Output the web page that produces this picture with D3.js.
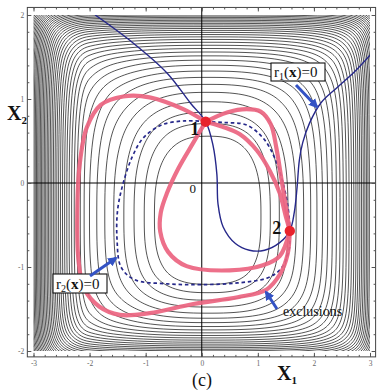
<!DOCTYPE html>
<html><head><meta charset="utf-8">
<script src="https://cdn.jsdelivr.net/npm/d3@7"></script>
<style>body{margin:0;background:#fff}</style>
</head><body>
<svg id="c" width="388" height="390"></svg>
<script>
// ---------- data ----------
const xTicks = [-3, -2, -1, 0, 1, 2, 3];
const yTicks = [-2, -1, 0, 1, 2];
const xMinor = [-3,-2.8,-2.6,-2.4,-2.2,-2,-1.8,-1.6,-1.4,-1.2,-1,-0.8,-0.6,-0.4,-0.2,0,0.2,0.4,0.6,0.8,1,1.2,1.4,1.6,1.8,2,2.2,2.4,2.6,2.8,3];
const yMinor = [-2,-1.8,-1.6,-1.4,-1.2,-1,-0.8,-0.6,-0.4,-0.2,0,0.2,0.4,0.6,0.8,1,1.2,1.4,1.6,1.8,2];
const roots = [{id: "1", x: 0.07, y: 0.73}, {id: "2", x: 1.57, y: -0.57}];
// r1(x)=0 (solid blue)
const r1Zero = [[-1.9,2.0],[-1.23,1.67],[-0.62,1.31],[-0.2,0.95],[0.07,0.73],[0.2,0.45],[0.27,0.1],[0.29,-0.25],[0.38,-0.52],[0.6,-0.72],[0.85,-0.8],[1.12,-0.8],[1.39,-0.71],[1.57,-0.57],[1.65,-0.35],[1.7,-0.05],[1.74,0.27],[1.8,0.48],[1.92,0.71],[2.12,0.95],[2.42,1.14],[2.72,1.32],[3.0,1.52]];
// r2(x)=0 (dashed blue, closed)
const r2Zero = [[0.07,0.73],[0.4,0.72],[0.8,0.69],[1.1,0.53],[1.3,0.3],[1.45,0.0],[1.54,-0.3],[1.57,-0.57],[1.55,-0.82],[1.4,-1.03],[1.17,-1.13],[0.64,-1.19],[0.0,-1.21],[-0.62,-1.2],[-1.2,-1.15],[-1.44,-1.0],[-1.51,-0.68],[-1.5,-0.32],[-1.4,0.0],[-1.24,0.31],[-1.05,0.53],[-0.72,0.69],[-0.3,0.74],[0.07,0.73]];
// exclusion boundaries (pink)
const exclOuterLeft = [[0.07,0.73],[-0.33,0.88],[-0.93,1.02],[-1.4,1.03],[-1.8,0.93],[-2.05,0.66],[-2.18,0.2],[-2.22,-0.4],[-2.2,-0.9],[-2.1,-1.25],[-1.83,-1.47],[-1.46,-1.57],[-0.93,-1.55],[-0.15,-1.44],[0.64,-1.36],[1.15,-1.27],[1.4,-1.08],[1.53,-0.85],[1.57,-0.57]];
const exclOuterRight = [[0.07,0.73],[0.45,0.84],[0.8,0.88],[1.05,0.85],[1.23,0.7],[1.33,0.42],[1.42,0.05],[1.5,-0.28],[1.57,-0.57]];
const exclInnerLeft = [[0.07,0.73],[-0.15,0.48],[-0.42,0.17],[-0.62,-0.12],[-0.73,-0.35],[-0.74,-0.58],[-0.6,-0.82],[-0.27,-0.99],[0.5,-1.04],[1.09,-0.98],[1.39,-0.87],[1.57,-0.57]];
const exclInnerRight = [[0.07,0.73],[0.37,0.67],[0.68,0.58],[0.98,0.39],[1.21,0.15],[1.39,-0.12],[1.5,-0.4],[1.57,-0.57]];
// contour field: density of contour lines (lines per unit) read along the axes
const fieldCenter = [0.12, -0.4];
const xDensKnots = [-3.1, -2.8, -2.5, -2.2, -2.0, -1.5, -0.5, 0.1, 1.0, 1.5, 1.9, 2.3, 2.6, 2.8, 3.1];
const xDensVals  = [52, 40, 28, 18, 8, 5.5, 5.5, 5.5, 5.8, 6.5, 8, 12, 20, 30, 45];
const yDensKnots = [-2.1, -1.9, -1.7, -1.5, -1.0, -0.4, 0.5, 1.0, 1.4, 1.7, 2.1];
const yDensVals  = [70, 42, 22, 13, 7, 5, 6, 8.5, 15, 30, 75];
const contourLevels = d3.range(5.3, 250, 1);
const normPower = 2.6;

// ---------- layout ----------
const svg = d3.select("#c");
const x = d3.scaleLinear().domain([-3, 3]).range([33.5, 370]);
const y = d3.scaleLinear().domain([-2, 2]).range([351, 15]);
const fx0 = x(-3.11), fx1 = x(3.1), fy0 = y(2.09), fy1 = y(-2.07);
const serif = "'Liberation Serif','Times New Roman',serif";

svg.append("defs").append("clipPath").attr("id", "clip")
  .append("rect").attr("x", x(-3)).attr("y", y(2)).attr("width", x(3) - x(-3)).attr("height", y(-2) - y(2));
const ah = svg.select("defs").append("marker").attr("id", "ah")
  .attr("viewBox", "0 0 10 10").attr("refX", 8).attr("refY", 5)
  .attr("markerWidth", 3.2).attr("markerHeight", 3.2).attr("orient", "auto");
ah.append("path").attr("d", "M0,0L10,5L0,10z").attr("fill", "#3352c4");

// ---------- contour field ----------
const xp0 = Math.floor(x(-3)) - 3, xp1 = Math.ceil(x(3)) + 3;
const yp0 = Math.floor(y(2)) - 3, yp1 = Math.ceil(y(-2)) + 3;
const nx = xp1 - xp0 + 1, ny = yp1 - yp0 + 1;
const dX = d3.scaleLinear().domain(xDensKnots).range(xDensVals).clamp(true);
const dY = d3.scaleLinear().domain(yDensKnots).range(yDensVals).clamp(true);
function integ(s, a, b) { const n = 160, h = (b - a) / n; let t = 0; for (let k = 0; k < n; k++) t += s(a + (k + 0.5) * h) * h; return Math.abs(t); }
const U = d3.range(nx).map(i => integ(dX, fieldCenter[0], x.invert(xp0 + i)));
const V = d3.range(ny).map(j => integ(dY, fieldCenter[1], y.invert(yp0 + j)));
const values = new Float64Array(nx * ny);
for (let j = 0; j < ny; j++) for (let i = 0; i < nx; i++)
  values[j * nx + i] = Math.pow(Math.pow(U[i], normPower) + Math.pow(V[j], normPower), 1 / normPower);
const contours = d3.contours().size([nx, ny]).thresholds(contourLevels)(values);
const gpath = d3.geoPath(d3.geoIdentity().translate([xp0 - 0.5, yp0 - 0.5]));
svg.append("g").attr("clip-path", "url(#clip)")
  .selectAll("path").data(contours).join("path")
  .attr("d", gpath).attr("fill", "none").attr("stroke", "#111").attr("stroke-width", 0.72);

// ---------- frame, axes ----------
svg.append("line").attr("x1", x(0)).attr("x2", x(0)).attr("y1", fy0).attr("y2", fy1).attr("stroke", "#000").attr("stroke-width", 1);
svg.append("line").attr("x1", fx0).attr("x2", fx1).attr("y1", y(0)).attr("y2", y(0)).attr("stroke", "#000").attr("stroke-width", 1);
svg.append("rect").attr("x", fx0).attr("y", fy0).attr("width", fx1 - fx0).attr("height", fy1 - fy0)
  .attr("fill", "none").attr("stroke", "#444").attr("stroke-width", 1);

function styleAxis(g) {
  g.select(".domain").remove();
  g.selectAll("line").attr("stroke", "#555");
  g.selectAll("text").attr("fill", "#666").attr("font-family", serif).attr("font-size", 7.5);
}
const fmt = d => String(d);
svg.append("g").attr("transform", `translate(0,${fy1})`)
  .call(d3.axisBottom(x).tickValues(xTicks).tickFormat(fmt).tickSizeInner(-4).tickSizeOuter(0).tickPadding(4)).call(styleAxis);
svg.append("g").attr("transform", `translate(0,${fy1})`)
  .call(d3.axisBottom(x).tickValues(xMinor).tickFormat("").tickSizeInner(-2).tickSizeOuter(0)).call(styleAxis);
svg.append("g").attr("transform", `translate(0,${fy0})`)
  .call(d3.axisTop(x).tickValues(xMinor).tickFormat("").tickSizeInner(-2).tickSizeOuter(0)).call(styleAxis);
svg.append("g").attr("transform", `translate(0,${fy0})`)
  .call(d3.axisTop(x).tickValues(xTicks).tickFormat("").tickSizeInner(-4).tickSizeOuter(0)).call(styleAxis);
svg.append("g").attr("transform", `translate(${fx0},0)`)
  .call(d3.axisLeft(y).tickValues(yTicks).tickFormat(fmt).tickSizeInner(-4).tickSizeOuter(0).tickPadding(3)).call(styleAxis);
svg.append("g").attr("transform", `translate(${fx0},0)`)
  .call(d3.axisLeft(y).tickValues(yMinor).tickFormat("").tickSizeInner(-2).tickSizeOuter(0)).call(styleAxis);
svg.append("g").attr("transform", `translate(${fx1},0)`)
  .call(d3.axisRight(y).tickValues(yMinor).tickFormat("").tickSizeInner(-2).tickSizeOuter(0)).call(styleAxis);
svg.append("g").attr("transform", `translate(${fx1},0)`)
  .call(d3.axisRight(y).tickValues(yTicks).tickFormat("").tickSizeInner(-4).tickSizeOuter(0)).call(styleAxis);

// ---------- curves ----------
const line = d3.line().x(d => x(d[0])).y(d => y(d[1])).curve(d3.curveCatmullRom.alpha(0.5));
const plot = svg.append("g").attr("clip-path", "url(#clip)");
plot.append("path").attr("d", line(r1Zero)).attr("fill", "none").attr("stroke", "#26288a").attr("stroke-width", 1.4);
plot.append("path").attr("d", line(r2Zero)).attr("fill", "none").attr("stroke", "#26288a").attr("stroke-width", 1.7).attr("stroke-dasharray", "3.5,2.8");
[exclOuterLeft, exclOuterRight, exclInnerLeft, exclInnerRight].forEach(c =>
  plot.append("path").attr("d", line(c)).attr("fill", "none").attr("stroke", "#ec6480")
    .attr("stroke-opacity", 0.92).attr("stroke-width", 4.2).attr("stroke-linecap", "round"));
svg.selectAll("circle.root").data(roots).join("circle").attr("class", "root")
  .attr("cx", d => x(d.x)).attr("cy", d => y(d.y)).attr("r", 5.2).attr("fill", "#e8222c");

// ---------- labels ----------
function txt(t, px, py, size, weight, anchor) {
  return svg.append("text").attr("x", px).attr("y", py).attr("font-family", serif)
    .attr("font-size", size).attr("font-weight", weight || "normal").attr("text-anchor", anchor || "start").attr("fill", "#111").text(t);
}
txt("1", x(roots[0].x) - 11, y(roots[0].y) + 13, 18, "bold", "middle");
txt("2", x(roots[1].x) - 13, y(roots[1].y) + 3, 18, "bold", "middle");
svg.append("rect").attr("x", x(-0.28)).attr("y", y(-0.02)).attr("width", 9).attr("height", 12).attr("fill", "#fff");
txt("0", x(-0.16), y(-0.12), 13, "normal", "middle");

function eqBox(px, py, w, h, sub) {
  svg.append("rect").attr("x", px).attr("y", py).attr("width", w).attr("height", h)
    .attr("fill", "#fff").attr("stroke", "#111").attr("stroke-width", 1.1);
  const t = svg.append("text").attr("x", px + 3).attr("y", py + h - 4).attr("font-family", serif)
    .attr("font-size", 15).attr("fill", "#111");
  t.append("tspan").text("r");
  t.append("tspan").attr("font-size", 10).attr("dy", 3).text(sub);
  t.append("tspan").attr("dy", -3).text("(");
  t.append("tspan").attr("font-weight", "bold").text("x");
  t.append("tspan").text(")=0");
}
eqBox(271, 63, 54, 18, "1");
eqBox(53, 274, 54, 19, "2");

function arrow(x1, y1, x2, y2) {
  svg.append("line").attr("x1", x1).attr("y1", y1).attr("x2", x2).attr("y2", y2)
    .attr("stroke", "#3352c4").attr("stroke-width", 3).attr("marker-end", "url(#ah)");
}
arrow(296, 85, 317, 107);
arrow(90, 276, 116, 258);
arrow(277, 309, 266, 292);
txt("exclusions", 283, 316, 14, "normal", "start");

// axis titles
const t2 = txt("X", 7, 120, 20, "bold", "start");
t2.append("tspan").attr("font-size", 11).attr("dy", 4).text("2");
const t1 = txt("X", 277, 380, 20, "bold", "start");
t1.append("tspan").attr("font-size", 11).attr("dy", 4).text("1");
txt("(c)", 202, 386, 18, "normal", "middle");
</script>
</body></html>
